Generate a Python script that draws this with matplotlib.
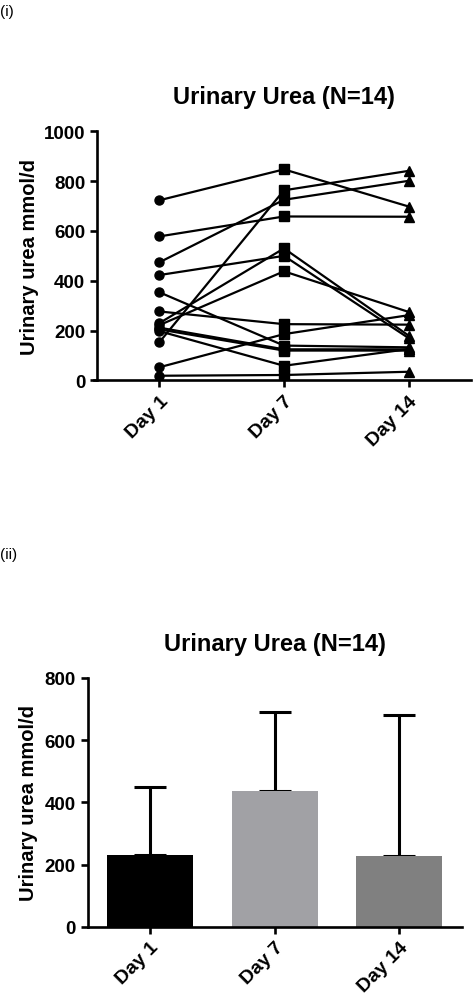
"""Urinary urea over 14 days: individual trajectories (i) and mean + SD bars (ii)."""

import matplotlib
matplotlib.use("Agg")
import matplotlib.pyplot as plt

plt.rcParams["font.family"] = ["Liberation Sans", "DejaVu Sans"]
plt.rcParams["font.weight"] = "bold"

days = ["Day 1", "Day 7", "Day 14"]

# one row per participant (N=14), values in mmol/d
day1 = [723, 578, 474, 423, 354, 277, 230, 222, 212, 205, 198, 153, 53, 19]
day7 = [847, 658, 725, 500, 140, 226, 530, 438, 125, 120, 59, 763, 186, 22]
day14 = [698, 657, 801, 170, 133, 224, 180, 275, 125, 120, 126, 841, 262, 35]

# panel (ii): mean and upper SD
bar_mean = [230, 437, 228]
bar_err = [220, 253, 452]
bar_colors = ["#000000", "#a1a1a5", "#808080"]


def style_axes(ax, ymax):
    for side in ("top", "right"):
        ax.spines[side].set_visible(False)
    for side in ("left", "bottom"):
        ax.spines[side].set_linewidth(1.9)
    ax.tick_params(width=1.9, length=5, direction="out")
    ax.tick_params(axis="y", labelsize=13.5)
    ax.tick_params(axis="x", labelsize=14)
    ax.set_ylim(0, ymax)
    ax.set_yticks(range(0, ymax + 1, 200))
    ax.set_xlim(-0.5, 2.5)
    ax.set_xticks(range(len(days)))
    ax.set_xticklabels(days, rotation=45, ha="right", rotation_mode="anchor")
    ax.set_ylabel("Urinary urea mmol/d", fontsize=14.5, fontweight="bold")
    ax.set_title("Urinary Urea (N=14)", fontsize=17, fontweight="bold", pad=20)


fig = plt.figure(figsize=(4.74, 9.95), dpi=100)

# ---- (i) individual trajectories -----------------------------------------
ax1 = fig.add_axes([0.2046, 0.6166, 0.789, 0.2505])
for a, b, c in zip(day1, day7, day14):
    ax1.plot([0, 1, 2], [a, b, c], color="black", lw=1.6, zorder=2)
    ax1.plot([0], [a], "o", color="black", ms=6.5, zorder=3)
    ax1.plot([1], [b], "s", color="black", ms=7, zorder=3)
    ax1.plot([2], [c], "^", color="black", ms=7, zorder=3)
style_axes(ax1, 1000)
ax1.yaxis.set_label_coords(-0.155, 0.5)
ax1.spines["bottom"].set_bounds(-0.52, 2.5)

# ---- (ii) mean + SD ------------------------------------------------------
ax2 = fig.add_axes([0.185, 0.0676, 0.789, 0.25])
ax2.bar(range(len(days)), bar_mean, width=0.69, color=bar_colors, zorder=2)
ax2.errorbar(range(len(days)), bar_mean, yerr=[[0] * 3, bar_err], fmt="none",
             ecolor="black", elinewidth=2.2, capsize=11.5, capthick=2.2, zorder=1)
style_axes(ax2, 800)
ax2.yaxis.set_label_coords(-0.134, 0.5)

fig.text(0.0, 0.988, "(i)", fontsize=11, fontweight="normal", va="center")
fig.text(0.0, 0.442, "(ii)", fontsize=11, fontweight="normal", va="center")

fig.savefig("out.png", dpi=100)
